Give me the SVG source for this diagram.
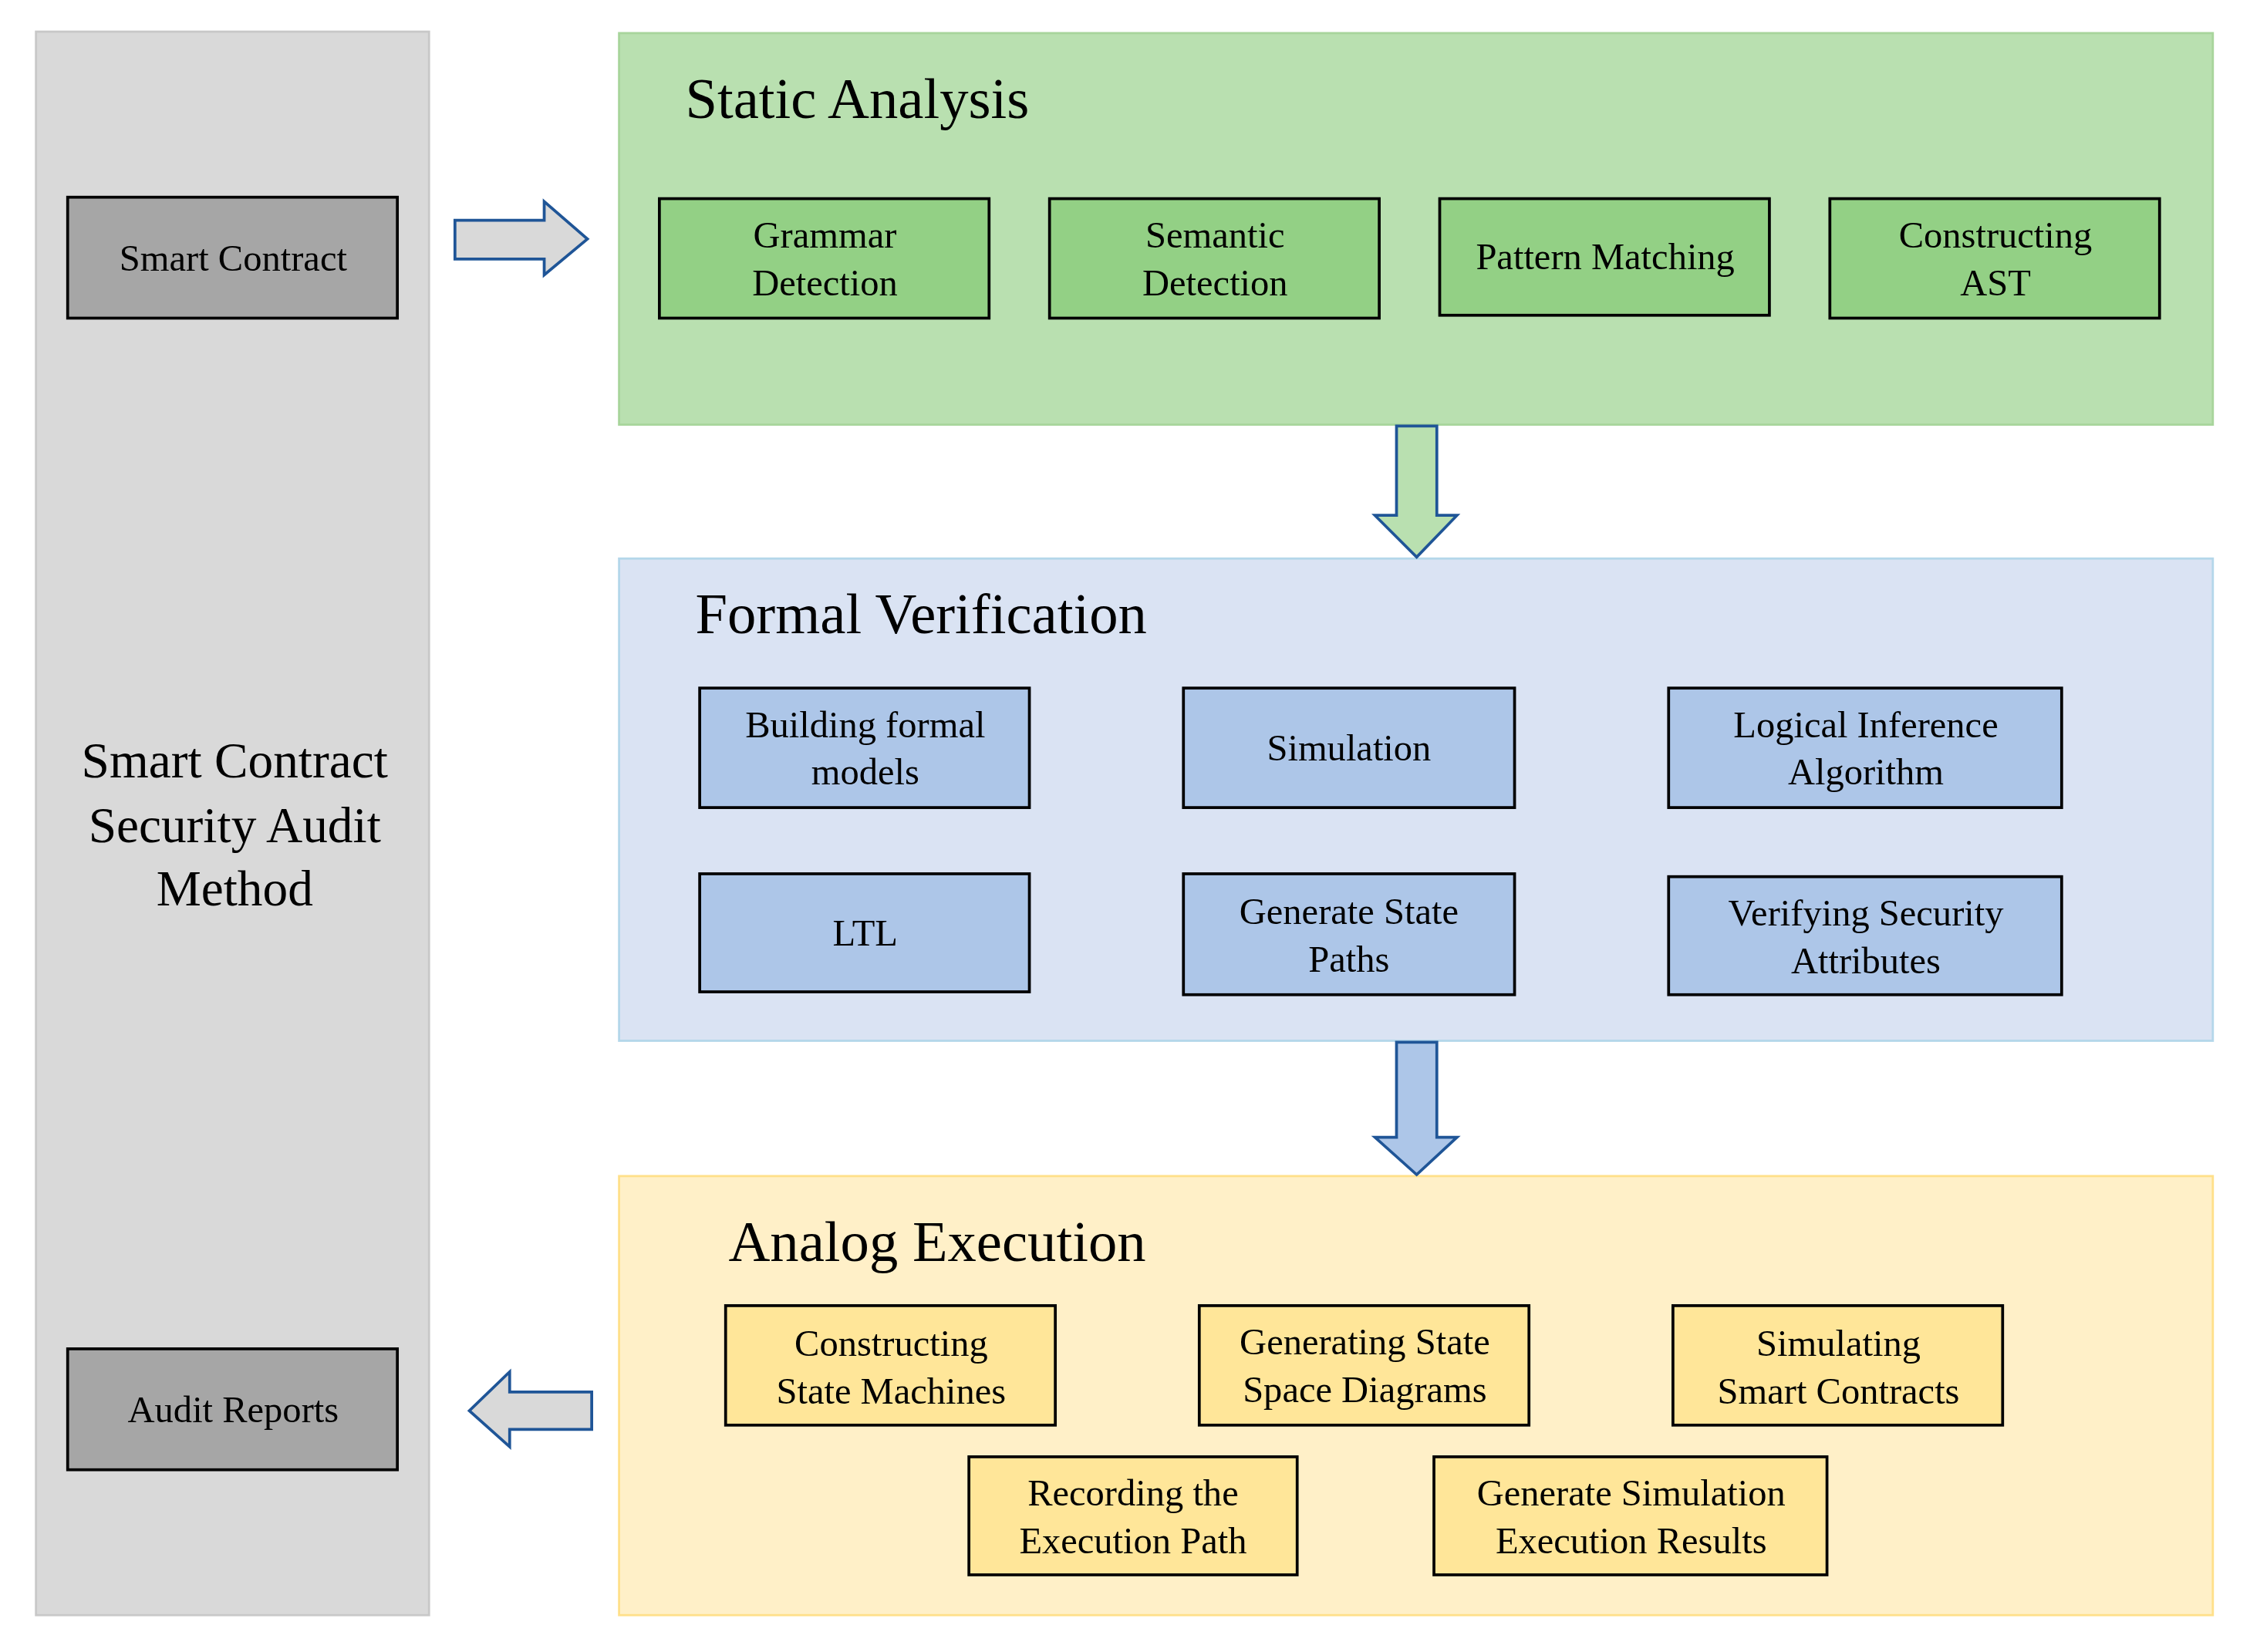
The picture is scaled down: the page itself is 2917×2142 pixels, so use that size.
<svg xmlns="http://www.w3.org/2000/svg" width="2917" height="2142" viewBox="0 0 2917 2142">
<style>
text{font-family:"Liberation Serif","Times New Roman",serif;fill:#000;text-anchor:middle}
.t{font-size:26px}
.h{font-size:40px;text-anchor:start}
.b{stroke:#000;stroke-width:2}
.ar{stroke:#1f5597;stroke-width:2}
</style>
<rect width="2917" height="2142" fill="#fff"/>
<g transform="scale(1.8665)">
<g id="left-panel"><rect x="25" y="22" width="273" height="1100" fill="#d9d9d9" stroke="#c8c8c8" stroke-width="1.5"/>
<text x="163" y="540" style="font-size:35px">Smart Contract</text>
<text x="163" y="585" style="font-size:35px">Security Audit</text>
<text x="163" y="629" style="font-size:35px">Method</text></g>
<g id="smart-contract"><rect class="b" x="47" y="137" width="229" height="84" fill="#a6a6a6"/><text class="t" x="162" y="188">Smart Contract</text></g>
<g id="audit-reports"><rect class="b" x="47" y="937" width="229" height="84" fill="#a6a6a6"/><text class="t" x="162" y="988">Audit Reports</text></g>

<g id="static"><rect x="430" y="23" width="1107" height="272" fill="#b9e0b0" stroke="#a8d59c" stroke-width="1.5"/>
<text class="h" x="476" y="82">Static Analysis</text>
<g id="sa1"><rect class="b" x="458" y="138" width="229" height="83" fill="#93d085"/><text class="t" x="573" y="172">Grammar</text><text class="t" x="573" y="205">Detection</text></g>
<g id="sa2"><rect class="b" x="729" y="138" width="229" height="83" fill="#93d085"/><text class="t" x="844" y="172">Semantic</text><text class="t" x="844" y="205">Detection</text></g>
<g id="sa3"><rect class="b" x="1000" y="138" width="229" height="81" fill="#93d085"/><text class="t" x="1115" y="187">Pattern Matching</text></g>
<g id="sa4"><rect class="b" x="1271" y="138" width="229" height="83" fill="#93d085"/><text class="t" x="1386" y="172">Constructing</text><text class="t" x="1386" y="205">AST</text></g>
</g>

<g id="formal"><rect x="430" y="388" width="1107" height="335" fill="#dae3f3" stroke="#b4d7ea" stroke-width="1.5"/>
<text class="h" x="483" y="440">Formal Verification</text>
<g id="fv1"><rect class="b" x="486" y="478" width="229" height="83" fill="#adc6e8"/><text class="t" x="601" y="512">Building formal</text><text class="t" x="601" y="545">models</text></g>
<g id="fv2"><rect class="b" x="822" y="478" width="230" height="83" fill="#adc6e8"/><text class="t" x="937" y="528">Simulation</text></g>
<g id="fv3"><rect class="b" x="1159" y="478" width="273" height="83" fill="#adc6e8"/><text class="t" x="1296" y="512">Logical Inference</text><text class="t" x="1296" y="545">Algorithm</text></g>
<g id="fv4"><rect class="b" x="486" y="607" width="229" height="82" fill="#adc6e8"/><text class="t" x="601" y="657">LTL</text></g>
<g id="fv5"><rect class="b" x="822" y="607" width="230" height="84" fill="#adc6e8"/><text class="t" x="937" y="642">Generate State</text><text class="t" x="937" y="675">Paths</text></g>
<g id="fv6"><rect class="b" x="1159" y="609" width="273" height="82" fill="#adc6e8"/><text class="t" x="1296" y="643">Verifying Security</text><text class="t" x="1296" y="676">Attributes</text></g>
</g>

<g id="analog"><rect x="430" y="817" width="1107" height="305" fill="#fff0c8" stroke="#ffe08a" stroke-width="1.5"/>
<text class="h" x="506" y="876">Analog Execution</text>
<g id="ae1"><rect class="b" x="504" y="907" width="229" height="83" fill="#ffe699"/><text class="t" x="619" y="942">Constructing</text><text class="t" x="619" y="975">State Machines</text></g>
<g id="ae2"><rect class="b" x="833" y="907" width="229" height="83" fill="#ffe699"/><text class="t" x="948" y="941">Generating State</text><text class="t" x="948" y="974">Space Diagrams</text></g>
<g id="ae3"><rect class="b" x="1162" y="907" width="229" height="83" fill="#ffe699"/><text class="t" x="1277" y="942">Simulating</text><text class="t" x="1277" y="975">Smart Contracts</text></g>
<g id="ae4"><rect class="b" x="673" y="1012" width="228" height="82" fill="#ffe699"/><text class="t" x="787" y="1046">Recording the</text><text class="t" x="787" y="1079">Execution Path</text></g>
<g id="ae5"><rect class="b" x="996" y="1012" width="273" height="82" fill="#ffe699"/><text class="t" x="1133" y="1046">Generate Simulation</text><text class="t" x="1133" y="1079">Execution Results</text></g>
</g>

<g id="connectors">
<polygon class="ar" fill="#d9d9d9" points="316,153 378,153 378,140 408,166 378,191 378,180 316,180"/>
<polygon class="ar" fill="#d9d9d9" points="411,967 354,967 354,953 326,980 354,1005 354,993 411,993"/>
<polygon class="ar" fill="#b9e0b0" points="970,296 998,296 998,358 1012,358 984,387 955,358 970,358"/>
<polygon class="ar" fill="#adc6e8" points="970,724 998,724 998,790 1012,790 984,816 955,790 970,790"/>
</g>
</g>
</svg>
